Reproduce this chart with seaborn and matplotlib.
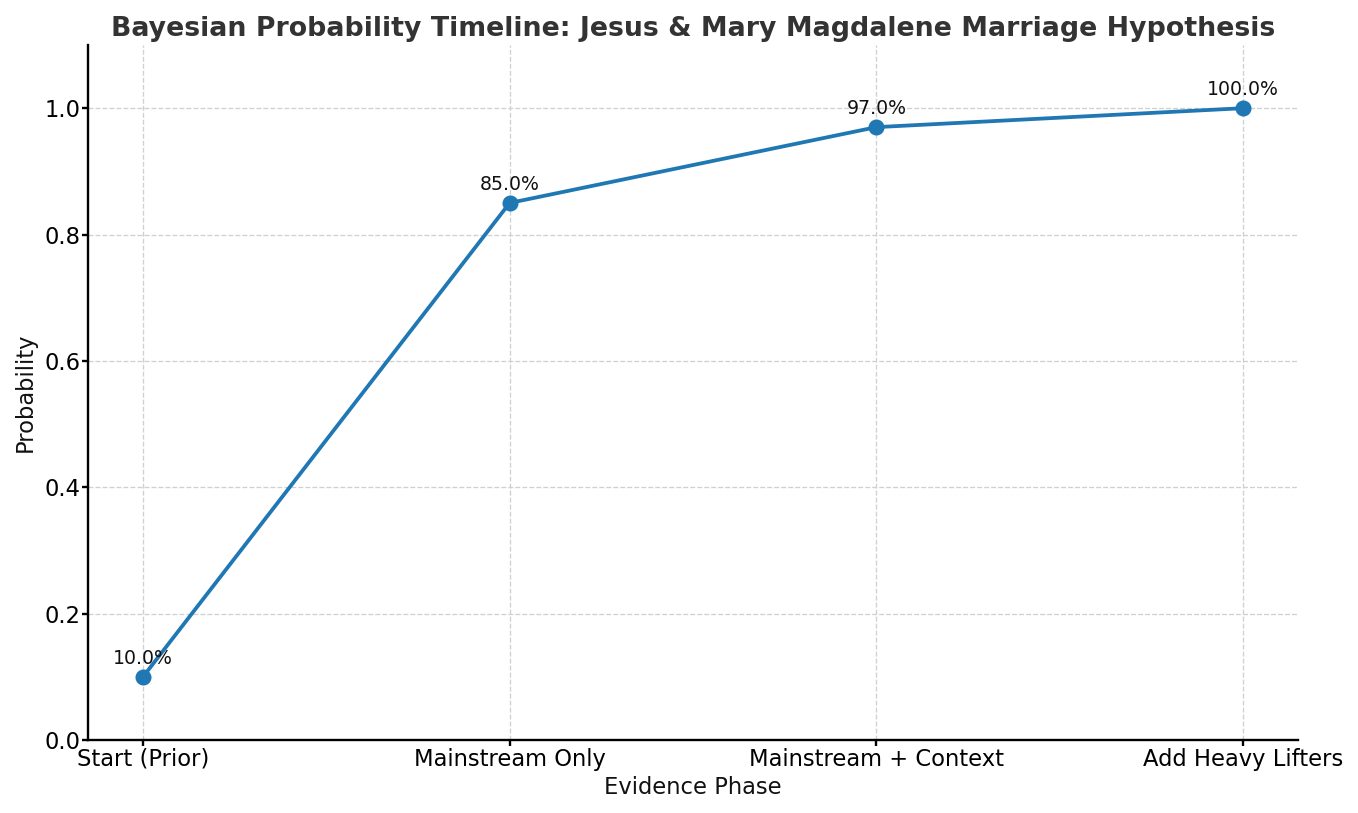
import matplotlib
matplotlib.use("Agg")
import matplotlib.pyplot as plt
import seaborn as sns
import pandas as pd

phases = ["Start (Prior)", "Mainstream Only", "Mainstream + Context", "Add Heavy Lifters"]
probabilities = [0.10, 0.85, 0.97, 1.00]

df = pd.DataFrame({"phase": phases, "probability": probabilities})
df["pos"] = range(len(phases))

sns.set_theme(style="ticks")
plt.rcParams["font.family"] = ["DejaVu Sans"]

fig, ax = plt.subplots(figsize=(10, 5.987), dpi=135.8)
sns.lineplot(data=df, x="pos", y="probability", marker="o", color="#1f77b4",
             linewidth=2, markersize=8.5, markeredgewidth=0, ax=ax)

for x, y in zip(df["pos"], df["probability"]):
    ax.annotate(f"{y * 100:.1f}%", (x, y), textcoords="offset points",
                xytext=(0, 7), ha="center", fontsize=10, color="#111111")

ax.set_xticks(df["pos"])
ax.set_xticklabels(phases, fontsize=12)
ax.tick_params(axis="both", labelsize=12, colors="black", length=3, pad=1)
ax.set_xlim(-0.15, 3.15)
ax.set_ylim(0, 1.1)
ax.grid(True, linestyle="--", color="#d0d0d0", linewidth=0.7)
ax.set_xlabel("Evidence Phase", fontsize=12, color="#111111", labelpad=3)
ax.set_ylabel("Probability", fontsize=12, color="#111111")
ax.set_title("Bayesian Probability Timeline: Jesus & Mary Magdalene Marriage Hypothesis",
             fontsize=14.2, fontweight="bold", color="#333333", pad=5)
for side in ["top", "right"]:
    ax.spines[side].set_visible(False)
for side in ["left", "bottom"]:
    ax.spines[side].set_color("black")

fig.subplots_adjust(left=0.0648, right=0.9558, top=0.9446, bottom=0.0898)
plt.savefig("out.png")
